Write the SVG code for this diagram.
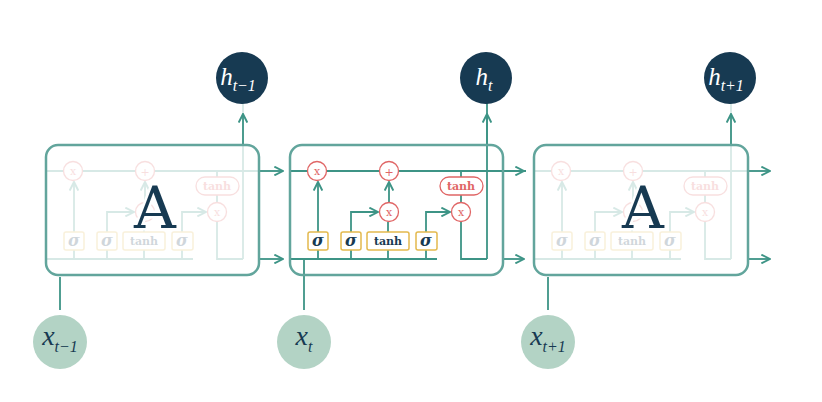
<svg xmlns="http://www.w3.org/2000/svg" width="822" height="402" viewBox="0 0 822 402">
<style>
.box{fill:none;stroke:#62a59c;stroke-width:2.5}
.ln{fill:none;stroke:#3d9486;stroke-width:1.8}
.op{fill:#fff;stroke:#e06666;stroke-width:1.3}
.opt{font-family:"DejaVu Serif",serif;font-size:11px;fill:#e06666;text-anchor:middle}
.gate{fill:#fff;stroke:#e3b94e;stroke-width:1.5}
.sig{font-family:"DejaVu Serif",serif;font-style:italic;font-weight:bold;font-size:16px;fill:#173a52;text-anchor:middle}
.gt{font-family:"DejaVu Serif",serif;font-weight:bold;font-size:11px;fill:#173a52;text-anchor:middle}
.h{fill:#173a52}
.x{fill:#b3d3c5}
.ht{font-family:"Liberation Serif",serif;font-style:italic;font-size:25px;fill:#fff;text-anchor:middle}
.xt{font-family:"Liberation Serif",serif;font-style:italic;font-size:28px;fill:#173a52;text-anchor:middle}
.sub{font-size:16px}
.big{font-family:"DejaVu Serif",serif;font-size:58px;fill:#173a52;text-anchor:middle;stroke:#fff;stroke-width:5;paint-order:stroke}
</style>
<defs>
<marker id="ar" viewBox="0 0 10 10" refX="9" refY="5" markerWidth="6" markerHeight="6" orient="auto"><path d="M1,1 L9,5 L1,9" fill="none" stroke="#3d9486" stroke-width="1.8"/></marker>
<g id="inner">
<path class="ln" d="M0,171 H236 M0,259 H147 M171,222 V259 H197 M197,259 V90"/>
<path class="ln" d="M28,232 V182" marker-end="url(#ar)"/>
<path class="ln" d="M61,232 V212 H88" marker-end="url(#ar)"/>
<path class="ln" d="M98,232 V222 M99,202 V182" marker-end="url(#ar)"/>
<path class="ln" d="M136,232 V212 H160" marker-end="url(#ar)"/>
<path class="ln" d="M28,250 V259 M61,250 V259 M98,250 V259 M136,250 V259 M171,171 V202"/>
<circle class="op" cx="27" cy="171" r="9.5"/><text class="opt" x="27" y="175">x</text>
<circle class="op" cx="99" cy="171" r="9.5"/><text class="opt" x="99" y="176" font-size="14">+</text>
<circle class="op" cx="99" cy="212" r="9.5"/><text class="opt" x="99" y="216">x</text>
<circle class="op" cx="171" cy="212" r="9.5"/><text class="opt" x="171" y="216">x</text>
<rect class="op" x="150" y="177" width="43" height="18" rx="9"/><text class="opt" x="171" y="190" font-weight="bold">tanh</text>
<rect class="gate" x="18" y="232" width="20" height="18" rx="2"/><text class="sig" x="28" y="246">σ</text>
<rect class="gate" x="51" y="232" width="20" height="18" rx="2"/><text class="sig" x="61" y="246">σ</text>
<rect class="gate" x="77" y="232" width="42" height="18" rx="2"/><text class="gt" x="98" y="245">tanh</text>
<rect class="gate" x="126" y="232" width="21" height="18" rx="2"/><text class="sig" x="136" y="246">σ</text>
</g>
</defs>
<g id="connectors">
<path class="ln" d="M259,171 H283" marker-end="url(#ar)"/>
<path class="ln" d="M259,259 H283" marker-end="url(#ar)"/>
<path class="ln" d="M243,145 V114" marker-end="url(#ar)"/>
<path class="ln" d="M60,310 V277"/>
<path class="ln" d="M503,171 H524" marker-end="url(#ar)"/>
<path class="ln" d="M503,259 H524" marker-end="url(#ar)"/>
<path class="ln" d="M487,145 V114" marker-end="url(#ar)"/>
<path class="ln" d="M304,310 V277"/>
<path class="ln" d="M748,171 H770" marker-end="url(#ar)"/>
<path class="ln" d="M748,259 H770" marker-end="url(#ar)"/>
<path class="ln" d="M731,145 V114" marker-end="url(#ar)"/>
<path class="ln" d="M548,310 V277"/>
</g>
<g id="cell-prev">
<use href="#inner" x="46" opacity="0.2"/>
<rect class="box" x="46" y="145" width="213" height="130" rx="12"/>
<text class="big" x="155" y="228">A</text>
</g>
<g id="cell-cur">
<use href="#inner" x="290"/>
<path class="ln" d="M304,259 V277"/>
<rect class="box" x="290" y="145" width="213" height="130" rx="12"/>
</g>
<g id="cell-next">
<use href="#inner" x="534" opacity="0.2"/>
<rect class="box" x="534" y="145" width="214" height="130" rx="12"/>
<text class="big" x="643" y="228">A</text>
</g>
<g id="h-prev"><circle class="h" cx="242" cy="78" r="26"/><text class="ht" x="238" y="85">h<tspan class="sub" dy="6">t−1</tspan></text></g>
<g id="h-cur"><circle class="h" cx="486" cy="78" r="26"/><text class="ht" x="484" y="85">h<tspan class="sub" dy="6">t</tspan></text></g>
<g id="h-next"><circle class="h" cx="730" cy="78" r="26"/><text class="ht" x="726" y="85">h<tspan class="sub" dy="6">t+1</tspan></text></g>
<g id="x-prev"><circle class="x" cx="60" cy="342" r="27"/><text class="xt" x="60" y="345">x<tspan class="sub" font-size="18" dy="7">t−1</tspan></text></g>
<g id="x-cur"><circle class="x" cx="304" cy="342" r="27"/><text class="xt" x="304" y="345">x<tspan class="sub" font-size="18" dy="7">t</tspan></text></g>
<g id="x-next"><circle class="x" cx="548" cy="342" r="27"/><text class="xt" x="548" y="345">x<tspan class="sub" font-size="18" dy="7">t+1</tspan></text></g>
</svg>
